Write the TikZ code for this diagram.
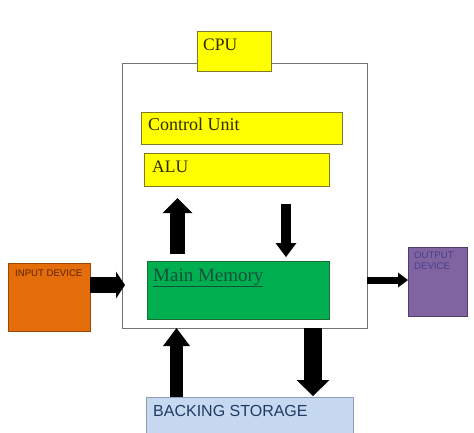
\documentclass[tikz,border=0pt]{standalone}
\usepackage{fontspec}
\setmainfont{Liberation Serif}
\newfontfamily\arialf{Liberation Sans}
\usetikzlibrary{arrows.meta}
\definecolor{yfill}{HTML}{FFFF00}
\definecolor{yline}{HTML}{7F7A2A}
\definecolor{ytext}{HTML}{2E2A00}
\definecolor{ofill}{HTML}{E46C0A}
\definecolor{oline}{HTML}{9A4A08}
\definecolor{otext}{HTML}{5A2400}
\definecolor{pfill}{HTML}{8064A2}
\definecolor{pline}{HTML}{4F3D68}
\definecolor{ptext}{HTML}{4A3F8A}
\definecolor{gfill}{HTML}{00B050}
\definecolor{gline}{HTML}{1E6E3A}
\definecolor{gtext}{HTML}{17503A}
\definecolor{bfill}{HTML}{C6D9F1}
\definecolor{bline}{HTML}{8A9CB8}
\definecolor{btext}{HTML}{1F3A64}
\tikzset{
  box/.style={draw, rectangle, anchor=north west, inner sep=0pt, outer sep=0pt, line width=0.8pt},
  ybox/.style={box, fill=yfill, draw=yline},
  serift/.style={anchor=base west, inner sep=0pt, text=ytext, font=\fontsize{17.5}{20}\selectfont},
  sanst/.style={anchor=base west, inner sep=0pt, font=\arialf\fontsize{9.6}{11.5}\selectfont},
  blk/.style n args={3}{draw=black, line width=#1,
     -{Triangle[length=#3 0 0, width=#2 0 0, line width=0pt]}},
}
\begin{document}
\begin{tikzpicture}[x=1pt, y=-1pt]
\useasboundingbox (0,0) rectangle (474,432);
% outer CPU box
\node[box, draw=black!55, line width=0.7pt, minimum width=245pt, minimum height=265pt] (cpubox) at (122,63) {};
% CPU label
\node[ybox, minimum width=74pt, minimum height=40pt,
  label={[serift, xshift=6pt, yshift=-19pt]north west:CPU}] (cpu) at (197,31) {};
% Control unit
\node[ybox, minimum width=201pt, minimum height=32pt,
  label={[serift, font=\fontsize{18}{20}\selectfont, xshift=7pt, yshift=-18pt]north west:Control Unit}] (cu) at (141,112) {};
% ALU
\node[ybox, minimum width=185pt, minimum height=33pt,
  label={[serift, xshift=8pt, yshift=-19pt]north west:ALU}] (alu) at (144,153) {};
% Main memory
\node[box, fill=gfill, draw=gline, minimum width=182pt, minimum height=58pt,
  label={[serift, text=gtext, font=\fontsize{19}{20}\selectfont, xshift=6pt, yshift=-20pt]north west:\underline{Main Memory}}] (mm) at (147,261) {};
% Input device
\node[box, fill=ofill, draw=oline, minimum width=82pt, minimum height=68pt,
  label={[sanst, text=otext, xshift=7pt, yshift=-13pt]north west:INPUT DEVICE}] (in) at (8,263) {};
% Output device
\node[box, fill=pfill, draw=pline, minimum width=59pt, minimum height=69pt,
  label={[sanst, text=ptext, align=left, anchor=north west, xshift=6pt, yshift=-4.5pt]north west:OUTPUT\\DEVICE}] (out) at (408,247) {};
% Backing storage
\node[box, fill=bfill, draw=bline, minimum width=207pt, minimum height=45pt,
  label={[sanst, text=btext, font=\arialf\fontsize{16}{18}\selectfont, xshift=7pt, yshift=-19pt]north west:BACKING STORAGE}] (bs) at (146,397) {};
% arrows
\draw[blk={15pt}{30pt}{15pt}, shorten <=7pt, shorten >=12pt]
  ([xshift=30.5pt]mm.north west) -- ([xshift=33.5pt]alu.south west);
\draw[blk={10pt}{21pt}{14pt}, shorten <=18pt, shorten >=4pt]
  ([xshift=142pt]alu.south west) -- ([xshift=139pt]mm.north west);
\draw[blk={13pt}{27pt}{18pt}]
  ([xshift=30.5pt]bs.north west) -- ([xshift=54.5pt]cpubox.south west);
\draw[blk={18pt}{33pt}{16pt}, shorten <=-0.5pt, shorten >=1pt]
  ([xshift=191pt]cpubox.south west) -- ([xshift=167pt]bs.north west);
\draw[blk={16pt}{27pt}{9pt}, shorten >=-3pt]
  (in.east |- 0,285) -- (cpubox.west |- 0,285);
\draw[blk={7pt}{15pt}{10pt}]
  (cpubox.east |- 0,280) -- (out.west |- 0,280);
\end{tikzpicture}
\end{document}
